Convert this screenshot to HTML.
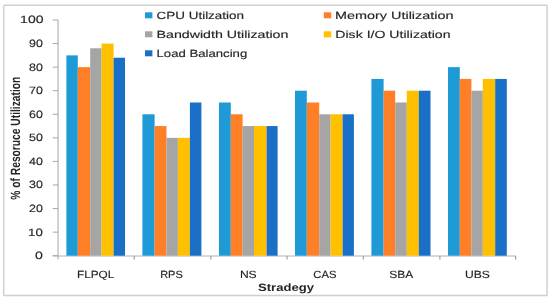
<!DOCTYPE html>
<html><head><meta charset="utf-8"><style>
html,body{margin:0;padding:0;background:#fff;}
svg{display:block;filter:blur(0.3px);}
text{font-family:"Liberation Sans", Arial, sans-serif;stroke:#262626;stroke-width:0.15px;}
text[font-weight=bold]{stroke-width:0;}
</style></head><body>
<svg width="550" height="302" viewBox="0 0 550 302" text-rendering="geometricPrecision">
<rect x="3.7" y="5.2" width="543.4" height="290.4" rx="0.8" fill="#fff" stroke="#D0D0D0" stroke-width="1.5"/>
<line x1="52.70" y1="256.00" x2="516.10" y2="256.00" stroke="#CCCCCC" stroke-width="1.4"/>
<rect x="66.40" y="55.35" width="11.40" height="200.35" fill="#1E9BD7"/>
<rect x="77.80" y="67.14" width="12.40" height="188.56" fill="#FF7F27"/>
<rect x="90.20" y="48.28" width="11.40" height="207.42" fill="#A5A5A5"/>
<rect x="101.60" y="43.57" width="12.00" height="212.13" fill="#FFC000"/>
<rect x="113.60" y="57.71" width="11.40" height="197.99" fill="#1A6FC6"/>
<rect x="142.40" y="114.28" width="12.20" height="141.42" fill="#1E9BD7"/>
<rect x="154.60" y="126.06" width="11.90" height="129.64" fill="#FF7F27"/>
<rect x="166.50" y="137.85" width="11.40" height="117.85" fill="#A5A5A5"/>
<rect x="177.90" y="137.85" width="12.00" height="117.85" fill="#FFC000"/>
<rect x="189.90" y="102.49" width="11.50" height="153.21" fill="#1A6FC6"/>
<rect x="219.00" y="102.49" width="11.80" height="153.21" fill="#1E9BD7"/>
<rect x="230.80" y="114.28" width="11.80" height="141.42" fill="#FF7F27"/>
<rect x="242.60" y="126.06" width="11.40" height="129.64" fill="#A5A5A5"/>
<rect x="254.00" y="126.06" width="12.60" height="129.64" fill="#FFC000"/>
<rect x="266.60" y="126.06" width="11.00" height="129.64" fill="#1A6FC6"/>
<rect x="295.00" y="90.71" width="11.80" height="164.99" fill="#1E9BD7"/>
<rect x="306.80" y="102.49" width="12.40" height="153.21" fill="#FF7F27"/>
<rect x="319.20" y="114.28" width="11.40" height="141.42" fill="#A5A5A5"/>
<rect x="330.60" y="114.28" width="12.00" height="141.42" fill="#FFC000"/>
<rect x="342.60" y="114.28" width="11.30" height="141.42" fill="#1A6FC6"/>
<rect x="371.40" y="78.92" width="12.20" height="176.78" fill="#1E9BD7"/>
<rect x="383.60" y="90.71" width="11.60" height="164.99" fill="#FF7F27"/>
<rect x="395.20" y="102.49" width="11.60" height="153.21" fill="#A5A5A5"/>
<rect x="406.80" y="90.71" width="12.00" height="164.99" fill="#FFC000"/>
<rect x="418.80" y="90.71" width="11.70" height="164.99" fill="#1A6FC6"/>
<rect x="448.00" y="67.14" width="11.80" height="188.56" fill="#1E9BD7"/>
<rect x="459.80" y="78.92" width="11.60" height="176.78" fill="#FF7F27"/>
<rect x="471.40" y="90.71" width="11.40" height="164.99" fill="#A5A5A5"/>
<rect x="482.80" y="78.92" width="12.40" height="176.78" fill="#FFC000"/>
<rect x="495.20" y="78.92" width="11.60" height="176.78" fill="#1A6FC6"/>
<line x1="58.05" y1="20.00" x2="58.05" y2="259.50" stroke="#A6A6A6" stroke-width="1"/>
<line x1="52.75" y1="255.70" x2="58.05" y2="255.70" stroke="#A6A6A6" stroke-width="1"/>
<line x1="52.75" y1="232.13" x2="58.05" y2="232.13" stroke="#A6A6A6" stroke-width="1"/>
<line x1="52.75" y1="208.56" x2="58.05" y2="208.56" stroke="#A6A6A6" stroke-width="1"/>
<line x1="52.75" y1="184.99" x2="58.05" y2="184.99" stroke="#A6A6A6" stroke-width="1"/>
<line x1="52.75" y1="161.42" x2="58.05" y2="161.42" stroke="#A6A6A6" stroke-width="1"/>
<line x1="52.75" y1="137.85" x2="58.05" y2="137.85" stroke="#A6A6A6" stroke-width="1"/>
<line x1="52.75" y1="114.28" x2="58.05" y2="114.28" stroke="#A6A6A6" stroke-width="1"/>
<line x1="52.75" y1="90.71" x2="58.05" y2="90.71" stroke="#A6A6A6" stroke-width="1"/>
<line x1="52.75" y1="67.14" x2="58.05" y2="67.14" stroke="#A6A6A6" stroke-width="1"/>
<line x1="52.75" y1="43.57" x2="58.05" y2="43.57" stroke="#A6A6A6" stroke-width="1"/>
<line x1="52.75" y1="20.00" x2="58.05" y2="20.00" stroke="#A6A6A6" stroke-width="1"/>
<line x1="134.20" y1="255.90" x2="134.20" y2="259.40" stroke="#999999" stroke-width="1.1"/>
<line x1="210.90" y1="255.90" x2="210.90" y2="259.40" stroke="#999999" stroke-width="1.1"/>
<line x1="287.05" y1="255.90" x2="287.05" y2="259.40" stroke="#999999" stroke-width="1.1"/>
<line x1="363.30" y1="255.90" x2="363.30" y2="259.40" stroke="#999999" stroke-width="1.1"/>
<line x1="439.90" y1="255.90" x2="439.90" y2="259.40" stroke="#999999" stroke-width="1.1"/>
<line x1="515.60" y1="255.90" x2="515.60" y2="259.40" stroke="#999999" stroke-width="1.1"/>
<text id="y0" x="34.95" y="259.10" font-size="10.6" textLength="7.90" lengthAdjust="spacingAndGlyphs" fill="#262626">0</text>
<text id="y1" x="28.00" y="235.53" font-size="10.6" textLength="14.85" lengthAdjust="spacingAndGlyphs" fill="#262626">10</text>
<text id="y2" x="29.00" y="211.96" font-size="10.6" textLength="13.85" lengthAdjust="spacingAndGlyphs" fill="#262626">20</text>
<text id="y3" x="29.00" y="188.39" font-size="10.6" textLength="13.85" lengthAdjust="spacingAndGlyphs" fill="#262626">30</text>
<text id="y4" x="29.00" y="164.82" font-size="10.6" textLength="13.85" lengthAdjust="spacingAndGlyphs" fill="#262626">40</text>
<text id="y5" x="29.00" y="141.25" font-size="10.6" textLength="13.85" lengthAdjust="spacingAndGlyphs" fill="#262626">50</text>
<text id="y6" x="29.00" y="117.68" font-size="10.6" textLength="13.85" lengthAdjust="spacingAndGlyphs" fill="#262626">60</text>
<text id="y7" x="29.00" y="94.11" font-size="10.6" textLength="13.85" lengthAdjust="spacingAndGlyphs" fill="#262626">70</text>
<text id="y8" x="29.00" y="70.54" font-size="10.6" textLength="13.85" lengthAdjust="spacingAndGlyphs" fill="#262626">80</text>
<text id="y9" x="29.00" y="46.97" font-size="10.6" textLength="13.85" lengthAdjust="spacingAndGlyphs" fill="#262626">90</text>
<text id="y10" x="20.10" y="23.40" font-size="10.6" textLength="23.40" lengthAdjust="spacingAndGlyphs" fill="#262626">100</text>
<text id="x0" x="76.95" y="278.20" font-size="10.4" textLength="37.30" lengthAdjust="spacingAndGlyphs" fill="#262626">FLPQL</text>
<text id="x1" x="160.15" y="278.20" font-size="10.4" textLength="22.60" lengthAdjust="spacingAndGlyphs" fill="#262626">RPS</text>
<text id="x2" x="239.90" y="278.20" font-size="10.4" textLength="16.80" lengthAdjust="spacingAndGlyphs" fill="#262626">NS</text>
<text id="x3" x="313.35" y="278.20" font-size="10.4" textLength="23.15" lengthAdjust="spacingAndGlyphs" fill="#262626">CAS</text>
<text id="x4" x="389.35" y="278.20" font-size="10.4" textLength="23.85" lengthAdjust="spacingAndGlyphs" fill="#262626">SBA</text>
<text id="x5" x="464.95" y="278.20" font-size="10.4" textLength="24.90" lengthAdjust="spacingAndGlyphs" fill="#262626">UBS</text>
<text id="xt" x="258.05" y="291.10" font-size="10.7" font-weight="bold" textLength="55.95" lengthAdjust="spacingAndGlyphs" fill="#262626">Stradegy</text>
<text id="yt" transform="rotate(-90)" x="-199.70" y="19.80" font-size="13.4" font-weight="bold" textLength="123.00" lengthAdjust="spacingAndGlyphs" fill="#262626">% of Resoruce Utilization</text>
<rect x="145.00" y="12.30" width="7.4" height="6" fill="#1E9BD7"/>
<text id="l0" x="156.50" y="19.00" font-size="10.4" textLength="87.55" lengthAdjust="spacingAndGlyphs" fill="#262626">CPU Utilzation</text>
<rect x="323.80" y="12.30" width="7.4" height="6" fill="#FF7F27"/>
<text id="l1" x="335.00" y="19.00" font-size="10.4" textLength="118.50" lengthAdjust="spacingAndGlyphs" fill="#262626">Memory Utilization</text>
<rect x="145.00" y="31.30" width="7.4" height="6" fill="#A5A5A5"/>
<text id="l2" x="156.50" y="38.00" font-size="10.4" textLength="131.90" lengthAdjust="spacingAndGlyphs" fill="#262626">Bandwidth Utilization</text>
<rect x="323.80" y="31.30" width="7.4" height="6" fill="#FFC000"/>
<text id="l3" x="335.30" y="38.00" font-size="10.4" textLength="115.25" lengthAdjust="spacingAndGlyphs" fill="#262626">Disk I/O Utilization</text>
<rect x="145.00" y="50.30" width="7.4" height="6" fill="#1A6FC6"/>
<text id="l4" x="156.50" y="57.00" font-size="10.4" textLength="90.70" lengthAdjust="spacingAndGlyphs" fill="#262626">Load Balancing</text>
</svg>
</body></html>
